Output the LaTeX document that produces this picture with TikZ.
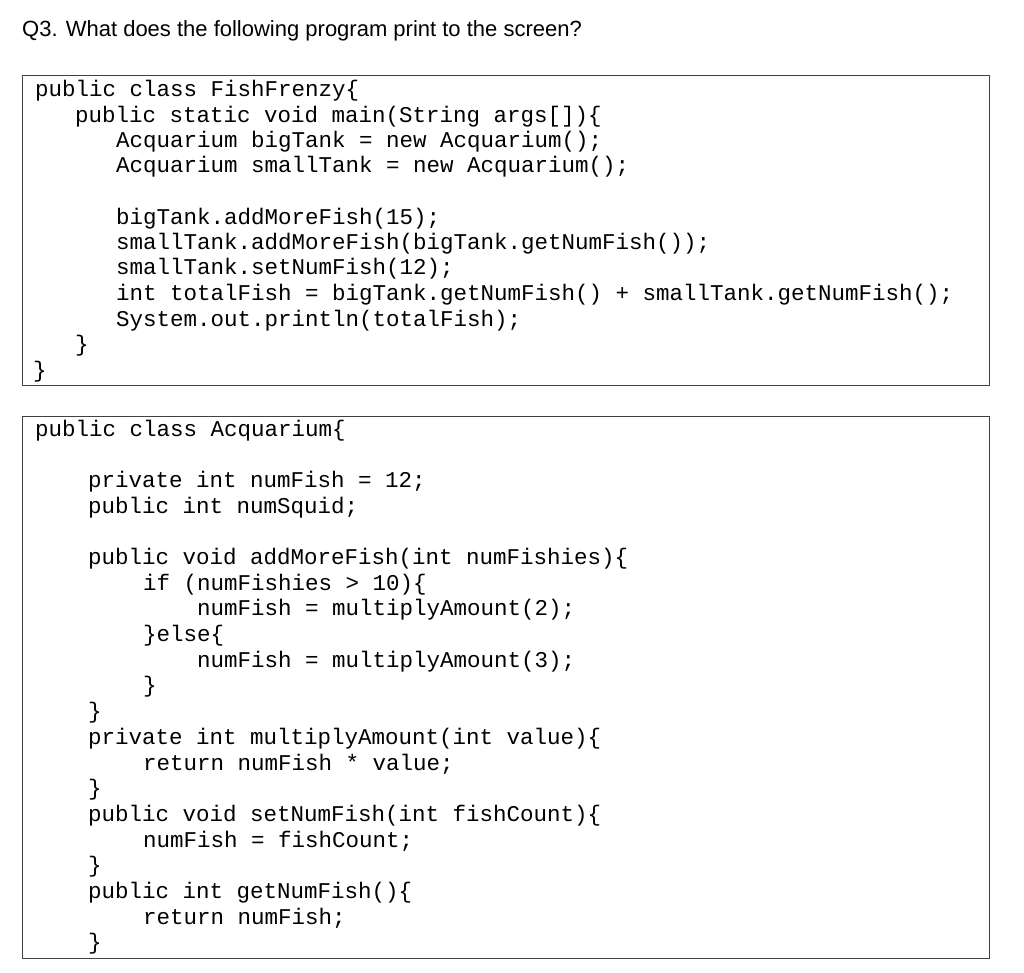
\documentclass[tikz,border=0pt]{standalone}
\usepackage{fontspec}
\setmainfont{Liberation Sans}
\newfontfamily\cmono{Liberation Mono}
\begin{document}
\begin{tikzpicture}[x=1pt,y=-1pt,
  code/.style={anchor=base west,inner sep=0pt,font=\cmono\fontsize{22.5}{22.5}\selectfont},
  frame/.style={draw=black!75,line width=0.9pt}]
\useasboundingbox (0,0) rectangle (1024,972);
\node[anchor=base west,inner sep=0pt,font=\fontsize{22}{22}\selectfont] (t) at (22,36) {Q3. What does the following program print to the screen?};
\draw[frame] (22,75) rectangle (989,385);
\draw[frame] (22,416) rectangle (989,958);
% box 1
\node[code] (a1) at (35,96) {public class FishFrenzy\{};
\node[code] (a2) at (75,122) {public static void main(String args[])\{};
\node[code] (a3) at (116,147) {Acquarium bigTank = new Acquarium();};
\node[code] (a4) at (116,172) {Acquarium smallTank = new Acquarium();};
\node[code] (a5) at (116,224) {bigTank.addMoreFish(15);};
\node[code] (a6) at (116,249) {smallTank.addMoreFish(bigTank.getNumFish());};
\node[code] (a7) at (116,274) {smallTank.setNumFish(12);};
\node[code] (a8) at (116,300) {int totalFish = bigTank.getNumFish() + smallTank.getNumFish();};
\node[code] (a9) at (116,326) {System.out.println(totalFish);};
\node[code] (a10) at (75,351) {\}};
\node[code] (a11) at (33,377) {\}};
% box 2
\node[code] (b1) at (35,436) {public class Acquarium\{};
\node[code] (b2) at (88,487) {private int numFish = 12;};
\node[code] (b3) at (88,513) {public int numSquid;};
\node[code] (b4) at (88,564) {public void addMoreFish(int numFishies)\{};
\node[code] (b5) at (143,590) {if (numFishies > 10)\{};
\node[code] (b6) at (197,615) {numFish = multiplyAmount(2);};
\node[code] (b7) at (143,641) {\}else\{};
\node[code] (b8) at (197,667) {numFish = multiplyAmount(3);};
\node[code] (b9) at (143,692) {\}};
\node[code] (b10) at (88,718) {\}};
\node[code] (b11) at (88,744) {private int multiplyAmount(int value)\{};
\node[code] (b12) at (143,770) {return numFish * value;};
\node[code] (b13) at (88,795) {\}};
\node[code] (b14) at (88,821) {public void setNumFish(int fishCount)\{};
\node[code] (b15) at (143,847) {numFish = fishCount;};
\node[code] (b16) at (88,872) {\}};
\node[code] (b17) at (88,898) {public int getNumFish()\{};
\node[code] (b18) at (143,924) {return numFish;};
\node[code] (b19) at (88,949) {\}};
\end{tikzpicture}
\end{document}
